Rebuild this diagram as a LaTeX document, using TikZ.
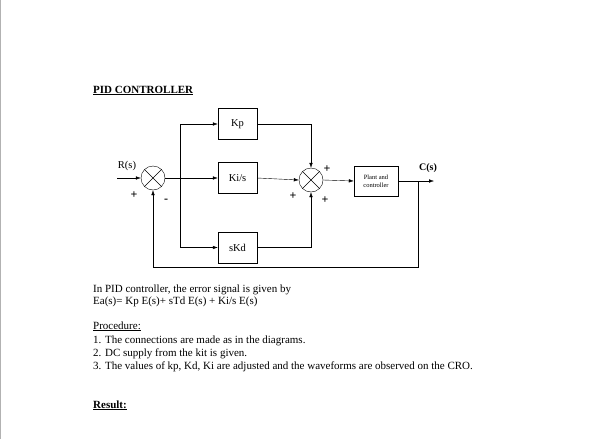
\documentclass[tikz,border=0pt]{standalone}
\usepackage{fontspec}
\setmainfont{Liberation Serif}
\usetikzlibrary{arrows.meta}
\begin{document}
\begin{tikzpicture}[x=1pt,y=-1pt,
 blk/.style={draw,minimum width=39pt,minimum height=31pt,inner sep=0pt,font=\fontsize{10.5}{12}\selectfont},
 sumj/.style={draw,circle,minimum size=24pt,inner sep=0pt},
 ar/.style={-{Latex[length=5pt,width=3.5pt]}},
 txt/.style={anchor=base west,font=\fontsize{11}{13}\selectfont,inner sep=0pt},
 sg/.style={font=\fontsize{12}{14}\selectfont\bfseries,inner sep=0pt}]
\useasboundingbox (0,0) rectangle (601,439);
\draw[gray!60] (0,0) -- (0,439);
\node[anchor=base west,inner sep=0pt,font=\fontsize{11}{13}\selectfont\bfseries] at (93,93) {\underline{PID CONTROLLER}};
\node[sumj] (s1) at (153,178) {};
\draw (s1.north west)--(s1.south east) (s1.north east)--(s1.south west);
\node[sumj] (s2) at (311,180) {};
\draw (s2.north west)--(s2.south east) (s2.north east)--(s2.south west);
\node[blk] (kp) at (237.5,124) {Kp};
\node[blk] (ki) at (237.5,178) {Ki/s};
\node[blk] (kd) at (237.5,247.5) {sKd};
\node[draw,minimum width=44pt,minimum height=30pt,inner sep=0pt,align=center,font=\fontsize{6.5}{8}\selectfont] (pl) at (376,181) {Plant and\\controller};
\coordinate (rin) at (117,178);
\coordinate (br) at (180,178);
\coordinate (cb) at (418,181);
\coordinate (cout) at (434,181);
\draw[ar] (rin) -- (s1.west);
\node[anchor=south,font=\fontsize{10.5}{12}\selectfont,inner sep=1pt] at (127,172) {R(s)};
\draw (s1.east) -- (br);
\draw[ar] (br) -- (ki.west);
\draw[ar] (br) |- (kp.west);
\draw[ar] (br) |- (kd.west);
\draw[ar] (kp.east) -| (s2.north);
\draw[ar] (ki.east) -- (s2.west);
\draw[ar] (kd.east) -| (s2.south);
\draw[ar] (s2.east) -- (pl.west);
\draw[ar] (pl.east) -- (cout);
\node[anchor=south,font=\fontsize{10}{12}\selectfont\bfseries,inner sep=1pt] at (428,174) {C(s)};
\draw[ar] (cb) -- (418,267) -| (s1.south);
\node[sg] at (134,195) {+};
\node[sg] at (166,201) {-};
\node[sg] at (327,169) {+};
\node[sg] at (293,196) {+};
\node[sg] at (325,200) {+};
\node[txt] at (93,292) {In PID controller, the error signal is given by};
\node[txt] at (93,304) {Ea(s)= Kp E(s)+ sTd E(s) + Ki/s E(s)};
\node[txt] at (93,329) {\underline{Procedure:}};
\node[txt] at (93,343) {1. The connections are made as in the diagrams.};
\node[txt] at (93,356) {2. DC supply from the kit is given.};
\node[txt] at (93,369) {3. The values of kp, Kd, Ki are adjusted and the waveforms are observed on the CRO.};
\node[txt,font=\fontsize{11}{13}\selectfont\bfseries] at (93,408) {\underline{Result:}};
\end{tikzpicture}
\end{document}
